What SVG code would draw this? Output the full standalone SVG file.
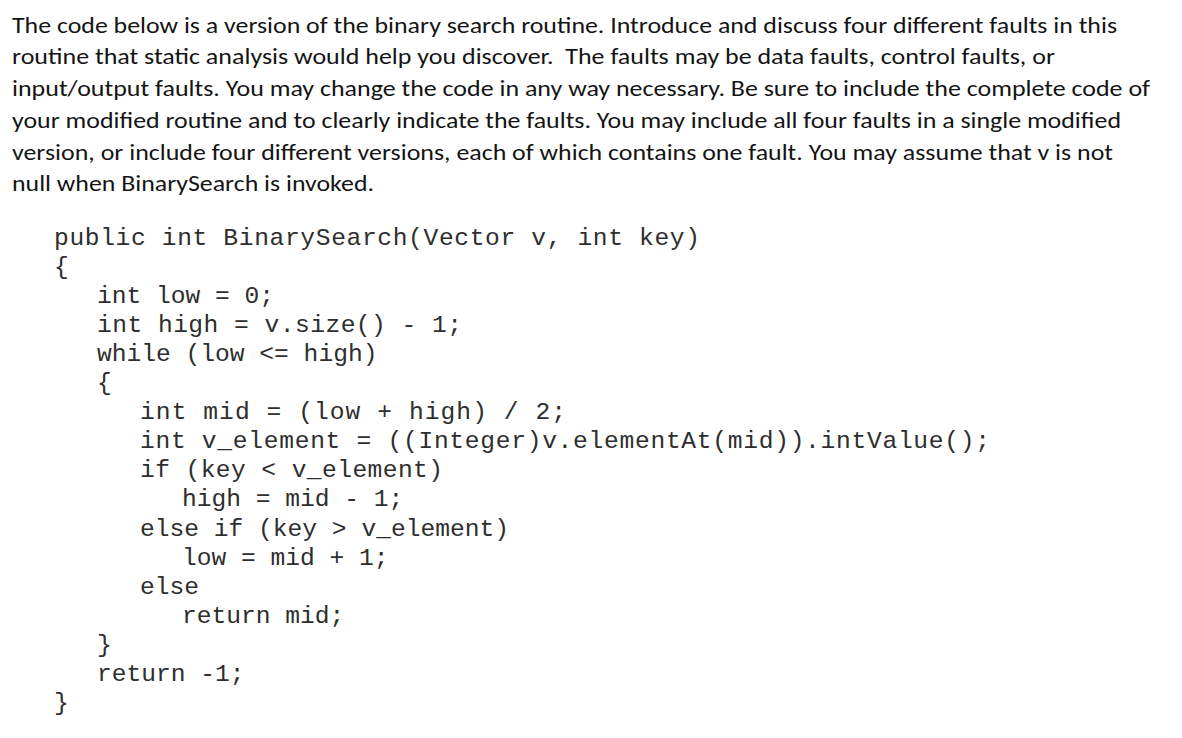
<svg xmlns="http://www.w3.org/2000/svg" width="1182" height="738" viewBox="0 0 1182 738">
<style>
.p{font-family:Carlito,Lato,"Liberation Sans",sans-serif;font-size:23px;fill:#141414;white-space:pre}
.c{font-family:"Liberation Mono","Courier New",monospace;font-size:24.6px;fill:#2e2e2e;white-space:pre}
</style>
<rect width="1182" height="738" fill="#fff"/>
<g id="question">
<text class="p" x="12" y="33" textLength="1105" lengthAdjust="spacingAndGlyphs">The code below is a version of the binary search routine. Introduce and discuss four different faults in this</text>
<text class="p" x="12" y="64" textLength="1043" lengthAdjust="spacingAndGlyphs">routine that static analysis would help you discover.  The faults may be data faults, control faults, or</text>
<text class="p" x="12" y="96" textLength="1138" lengthAdjust="spacingAndGlyphs">input/output faults. You may change the code in any way necessary. Be sure to include the complete code of</text>
<text class="p" x="12" y="128" textLength="1109" lengthAdjust="spacingAndGlyphs">your modified routine and to clearly indicate the faults. You may include all four faults in a single modified</text>
<text class="p" x="12" y="160" textLength="1101" lengthAdjust="spacingAndGlyphs">version, or include four different versions, each of which contains one fault. You may assume that v is not</text>
<text class="p" x="12" y="191" textLength="362" lengthAdjust="spacingAndGlyphs">null when BinarySearch is invoked.</text>
</g>
<g id="code">
<text class="c" x="54" y="244.5" textLength="646" lengthAdjust="spacing">public int BinarySearch(Vector v, int key)</text>
<text class="c" x="54" y="273.6">{</text>
<text class="c" x="97" y="302.7">int low = 0;</text>
<text class="c" x="97" y="331.8" textLength="365" lengthAdjust="spacing">int high = v.size() - 1;</text>
<text class="c" x="97" y="360.9">while (low &lt;= high)</text>
<text class="c" x="97" y="390">{</text>
<text class="c" x="140" y="419.1" textLength="426" lengthAdjust="spacing">int mid = (low + high) / 2;</text>
<text class="c" x="140" y="448.2" textLength="850" lengthAdjust="spacing">int v_element = ((Integer)v.elementAt(mid)).intValue();</text>
<text class="c" x="140" y="477.3" textLength="303" lengthAdjust="spacing">if (key &lt; v_element)</text>
<text class="c" x="182" y="506.4">high = mid - 1;</text>
<text class="c" x="140" y="535.5">else if (key &gt; v_element)</text>
<text class="c" x="182" y="564.6">low = mid + 1;</text>
<text class="c" x="140" y="593.7">else</text>
<text class="c" x="182" y="622.8">return mid;</text>
<text class="c" x="97" y="651.9">}</text>
<text class="c" x="97" y="681">return -1;</text>
<text class="c" x="54" y="710.1">}</text>
</g>
</svg>
